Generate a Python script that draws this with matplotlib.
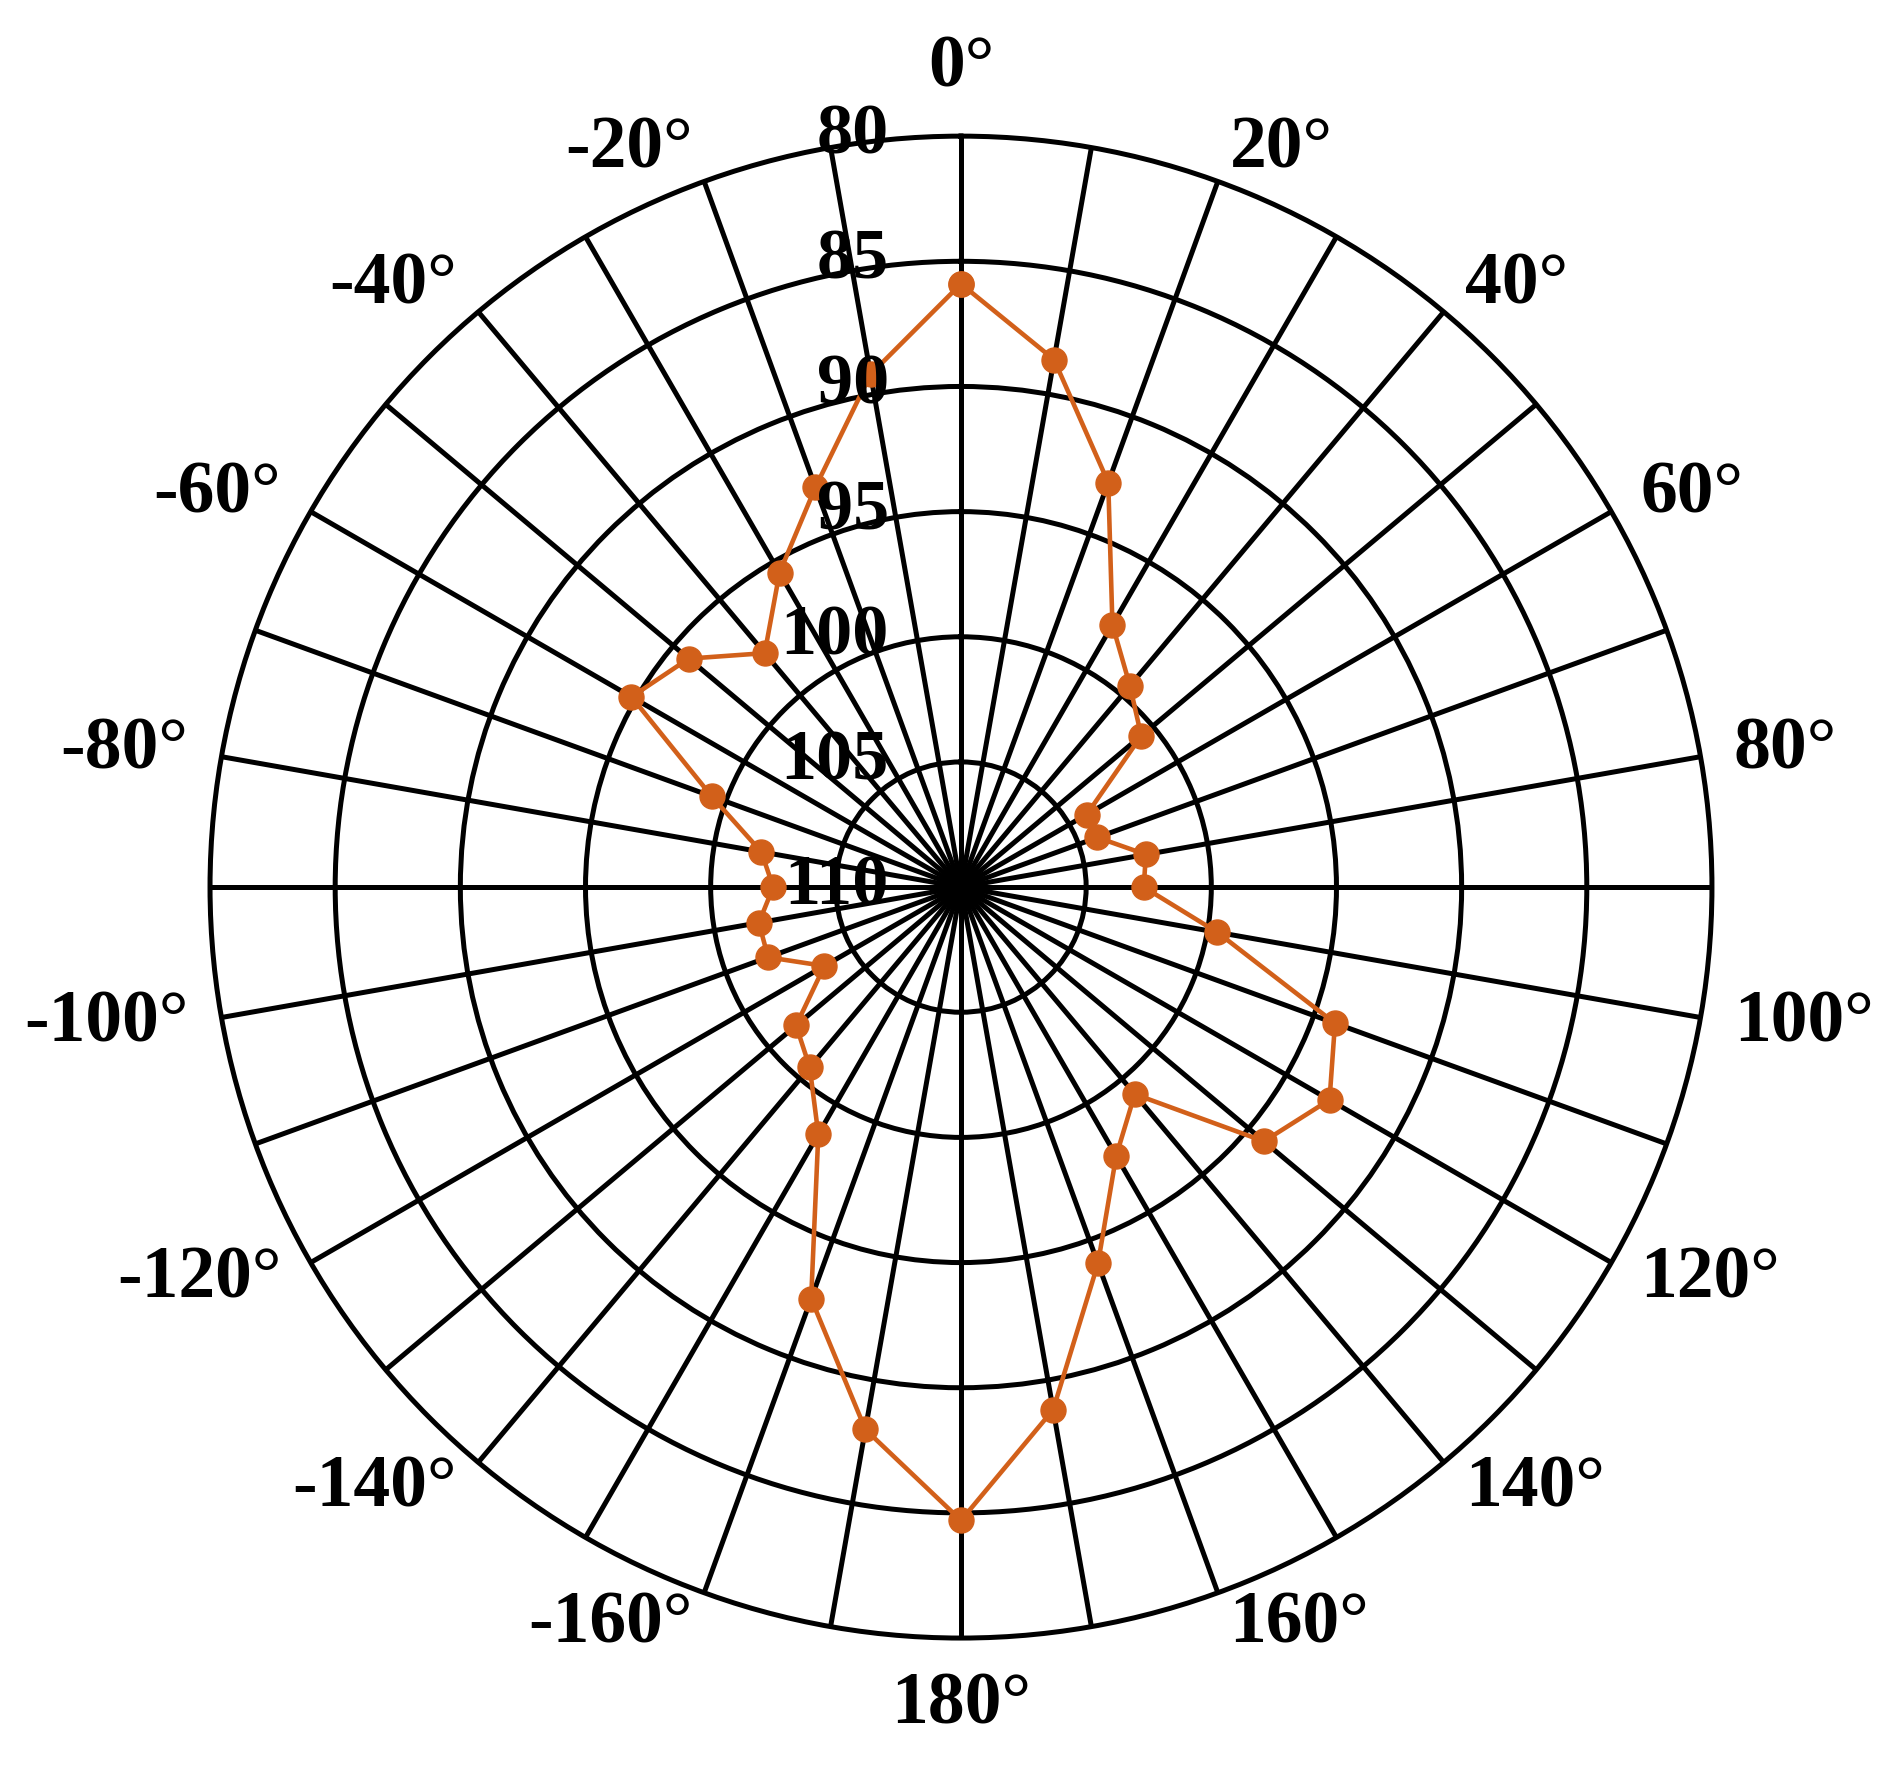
import numpy as np
import matplotlib
matplotlib.use("Agg")
import matplotlib.pyplot as plt

# ---- data ----
angles_deg = list(range(0, 360, 10))
values = [85.9, 88.6, 92.8, 97.9, 99.5, 100.6, 104.2, 104.2, 102.5, 102.7,
          99.6, 94.1, 93.0, 94.2, 99.2, 97.6, 94.0, 88.8, 84.7, 88.0,
          92.5, 98.6, 100.6, 101.4, 103.7, 101.8, 101.8, 102.5, 101.9, 99.4,
          94.8, 95.8, 97.8, 95.5, 93.0, 89.2]
theta_ticks = list(range(0, 360, 10))
label_angles = list(range(0, 360, 20))
label_texts = ["%d°" % (a if a <= 180 else a - 360) for a in label_angles]
r_ticks = [80, 85, 90, 95, 100, 105, 110]
r_min, r_max = 110, 80

plt.rcParams['font.family'] = ['Liberation Serif', 'DejaVu Serif']
fig = plt.figure(figsize=(18.99, 17.68), dpi=100)
ax = fig.add_axes([0.1106, 0.0735, 0.7909, 0.8495], projection='polar')
ax.set_theta_zero_location('N')
ax.set_theta_direction(-1)
ax.set_ylim(r_min, r_max)

ax.set_thetagrids(theta_ticks, [''] * len(theta_ticks))
ax.set_rgrids([v for v in r_ticks if v not in (r_min, r_max)], labels=[''] * 5)
ax.grid(True, color='black', linewidth=3.6)
ax.spines['polar'].set_linewidth(3.6)
ax.spines['polar'].set_color('black')

th = np.deg2rad(angles_deg + [angles_deg[0]])
rv = values + [values[0]]
ax.plot(th, rv, color='#D2601A', linewidth=3.3, marker='o', markersize=18, zorder=5, clip_on=False)

# angle labels
R = 1.045
for a, t in zip(label_angles, label_texts):
    s, c = np.sin(np.deg2rad(a)), np.cos(np.deg2rad(a))
    if a == 0:
        ha, va = 'center', 'bottom'
    elif a == 180:
        ha, va = 'center', 'top'
    elif a < 180:
        ha, va = 'left', 'center'
    else:
        ha, va = 'right', 'center'
    ax.text(0.5 + 0.5 * R * s, 0.5 + 0.5 * R * c, t, transform=ax.transAxes,
            ha=ha, va=va, fontsize=53, fontweight='bold', clip_on=False)

# radial labels
for v in r_ticks:
    frac = (r_min - v) / (r_min - r_max)
    ax.text(0.452, 0.5 + 0.5 * frac, str(v), transform=ax.transAxes,
            ha='right', va='center', fontsize=52, fontweight='bold', zorder=6)

fig.savefig('out.png', dpi=100)
